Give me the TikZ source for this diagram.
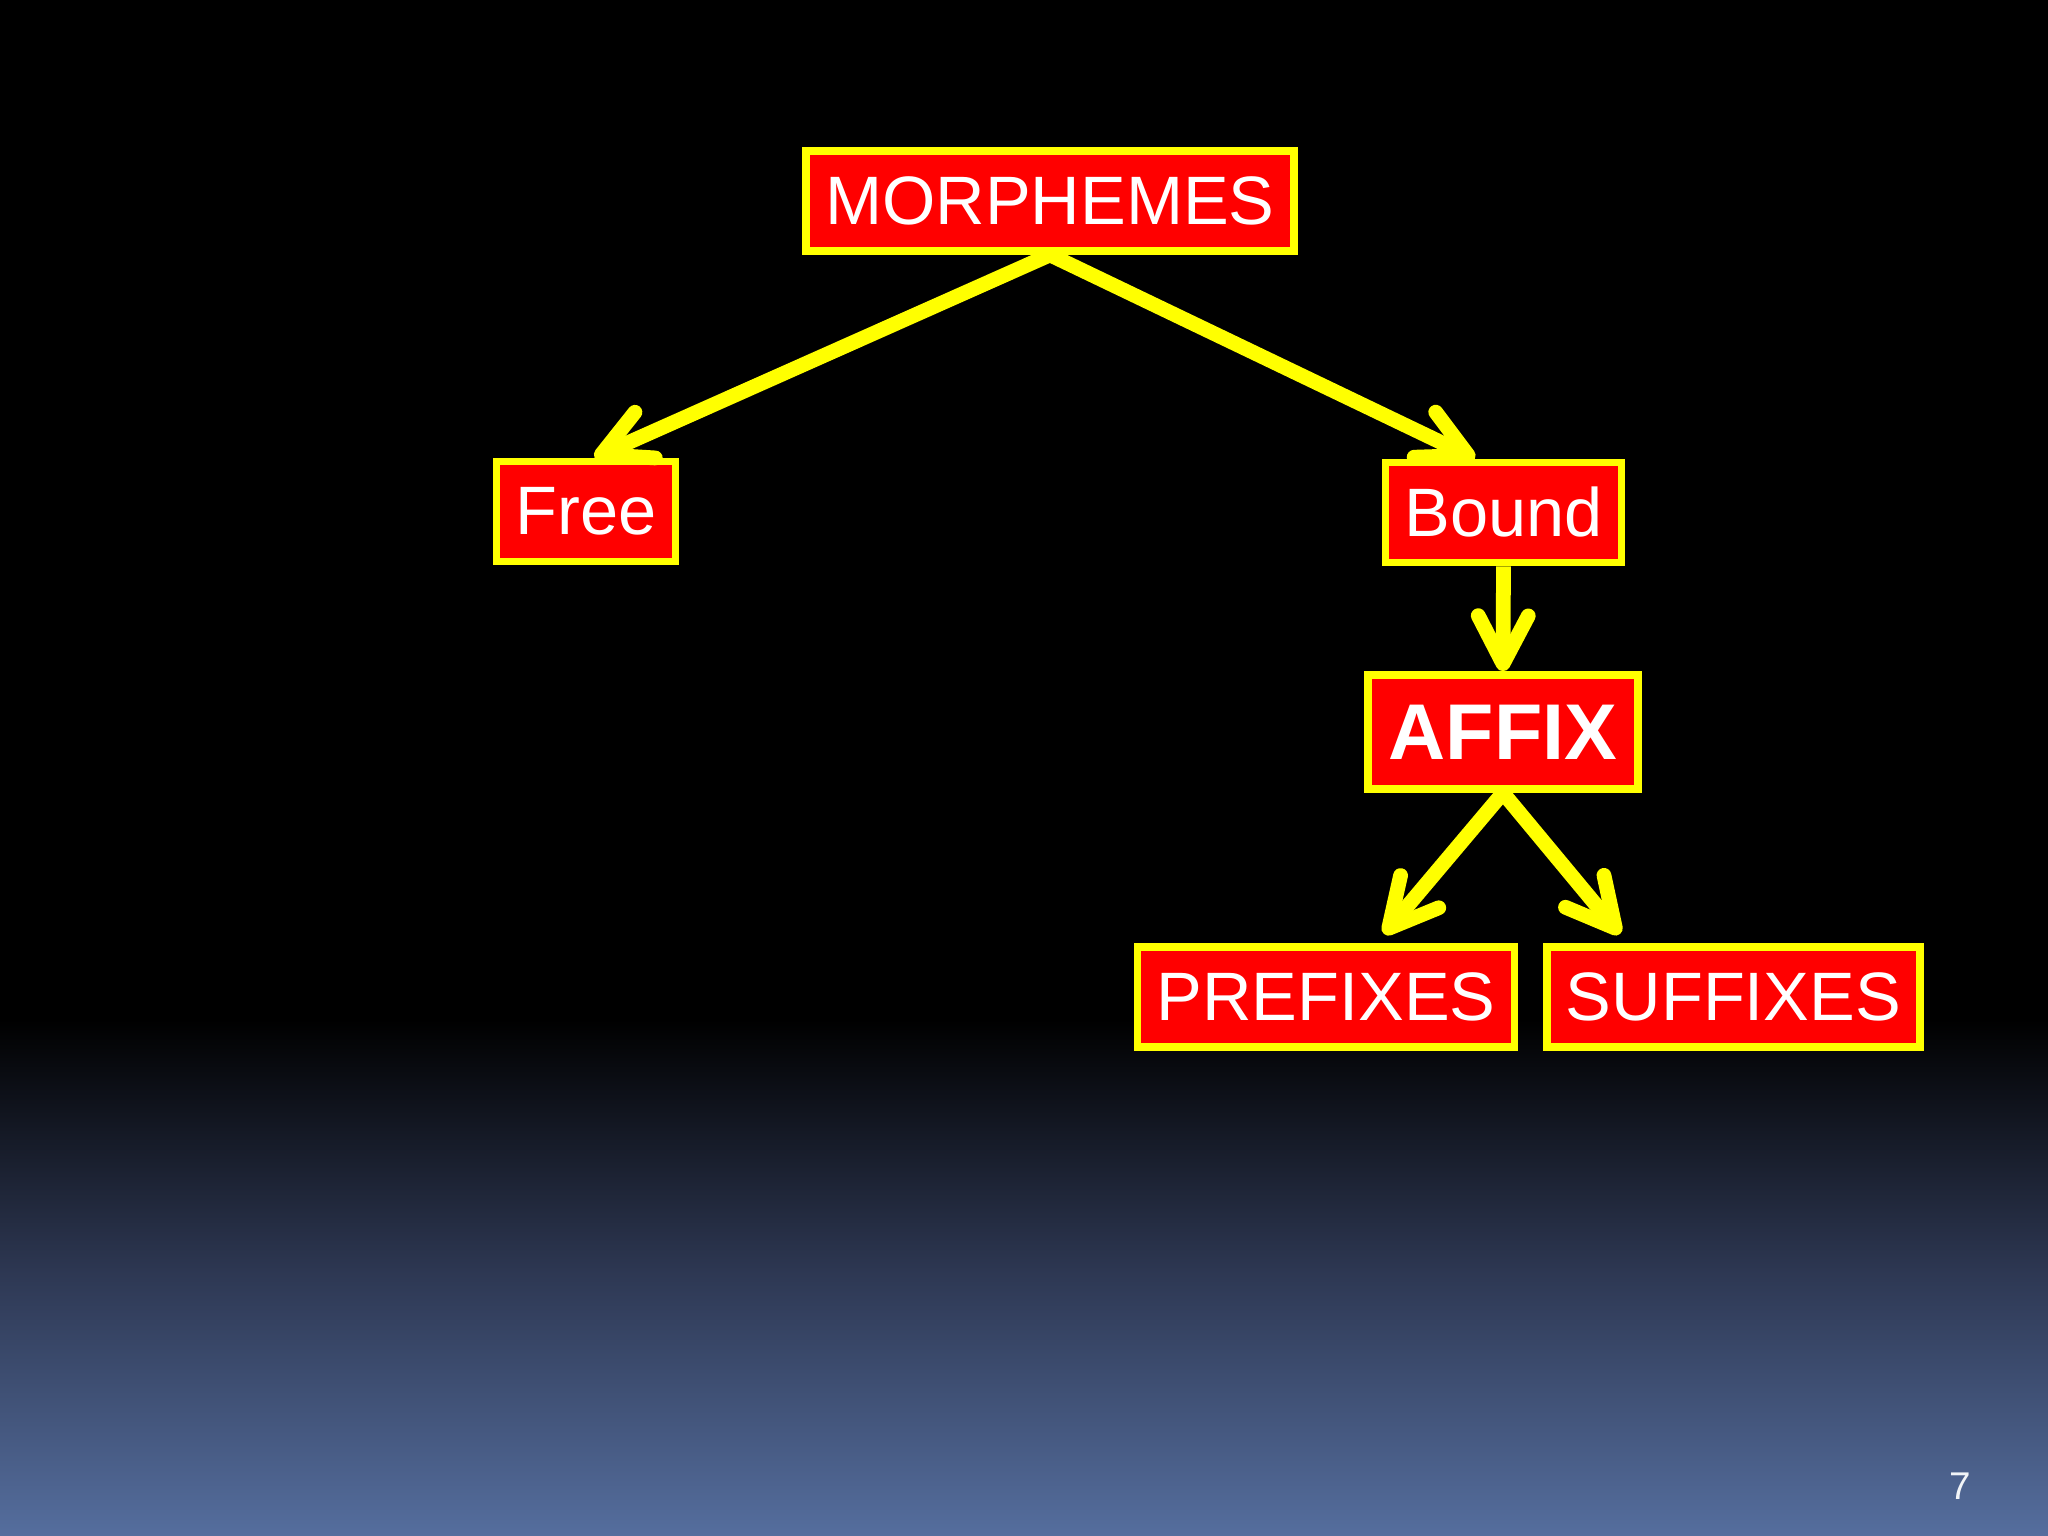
\documentclass[tikz,border=0pt]{standalone}
\usepackage{fontspec}
\setmainfont{Liberation Sans}
\usetikzlibrary{arrows.meta}
\definecolor{slidemid}{RGB}{45,55,82}
\definecolor{slideblue}{RGB}{85,110,158}
\definecolor{boxred}{RGB}{255,0,0}
\definecolor{boxyellow}{RGB}{255,255,0}

\begin{document}
\begin{tikzpicture}
            \tikzstyle{wordbox}=[draw=boxyellow, fill=boxred, line width=2.2pt, text=white, font=\fontsize{19.5}{23}\selectfont, inner xsep=0.19cm, minimum height=1.0cm]
            \tikzstyle{link}=[draw=boxyellow, line width=4.2pt, -{Straight Barb[length=4.8mm,width=5mm,round]}]
            \useasboundingbox (0,0) rectangle (20.48,-15.36);
            % background
            \fill [black] (0,0) rectangle (20.48,-10.2);
            \shade [top color=black, bottom color=slidemid] (0,-10.19) rectangle (20.48,-12.7);
            \shade [top color=slidemid, bottom color=slideblue] (0,-12.69) rectangle (20.48,-15.36);
            % boxes
            \node [wordbox] (morph) at (10.50,-2.01) {MORPHEMES};
            \node [wordbox] (free) at (5.86,-5.115) {Free};
            \node [wordbox] (bound) at (15.035,-5.125) {Bound};
            \node [wordbox, font=\bfseries\fontsize{22.5}{27}\selectfont, minimum height=1.14cm, inner xsep=0.21cm] (affix) at (15.03,-7.32) {AFFIX};
            \node [wordbox] (prefixes) at (13.26,-9.97) {PREFIXES};
            \node [wordbox] (suffixes) at (17.335,-9.97) {SUFFIXES};
            \node [text=white!92!slideblue, font=\fontsize{11}{13}\selectfont] (pagenum) at (19.6,-14.86) {7};
            % arrows
            \draw [link] (morph.south) -- (free.81);
            \draw [link] (morph.south) -- (bound.118);
            \draw [link] (bound.south) -- (affix.north);
            \draw [link, shorten >=0.12cm] (affix.south) -- (prefixes.47);
            \draw [link, shorten >=0.12cm] (affix.south) -- (suffixes.153);
          \end{tikzpicture}
\end{document}
